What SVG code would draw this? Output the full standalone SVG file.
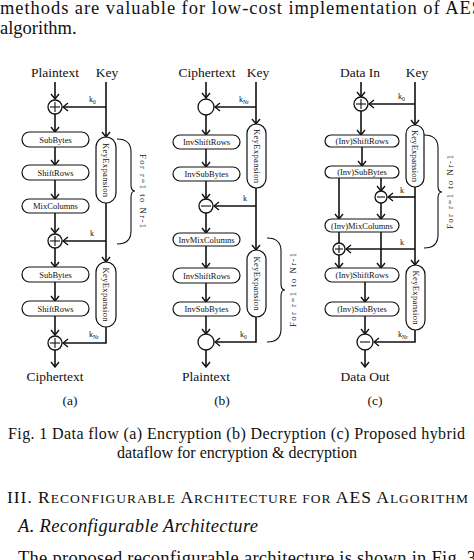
<svg xmlns="http://www.w3.org/2000/svg" width="474" height="560" viewBox="0 0 474 560">
<defs>
<marker id="arr" viewBox="-6 -5 7 10" refX="0" refY="0" markerWidth="7" markerHeight="10" markerUnits="userSpaceOnUse" orient="auto">
<path d="M-5,-4 L0,0 L-5,4" fill="none" stroke="#111" stroke-width="1.4"/>
</marker>
</defs>
<style>
text{font-family:"Liberation Serif","Times New Roman",serif;fill:#111}
.para{font-size:18.5px}
.io{font-size:13.5px;text-anchor:middle}
.box{fill:#fff;stroke:#111;stroke-width:1.2}
.bt{font-size:8.5px;text-anchor:middle}
.kt{font-size:8.5px;text-anchor:middle}
.lbl{font-size:8px}
.ln{fill:none;stroke:#111;stroke-width:1.6}
.op{fill:#fff;stroke:#111;stroke-width:1.3}
.sym{stroke:#111;stroke-width:1.1}
.br{fill:none;stroke:#111;stroke-width:1.1}
.rt{font-size:8.5px;text-anchor:middle}
.cap{font-size:16px}
</style>
<rect width="474" height="560" fill="#fff"/>
<text class="para" x="0" y="14" textLength="482" lengthAdjust="spacing">methods are valuable for low-cost implementation of AES</text>
<text class="para" x="0" y="34">algorithm.</text>

<g id="connectors">
<!-- panel a -->
<line class="ln" x1="55" y1="82" x2="55" y2="99" marker-end="url(#arr)"/>
<line class="ln" x1="106" y1="82" x2="106" y2="137" marker-end="url(#arr)"/>
<line class="ln" x1="106" y1="107" x2="63" y2="107" marker-end="url(#arr)"/>
<line class="ln" x1="55" y1="114" x2="55" y2="132" marker-end="url(#arr)"/>
<line class="ln" x1="55" y1="147" x2="55" y2="165" marker-end="url(#arr)"/>
<line class="ln" x1="55" y1="180" x2="55" y2="199" marker-end="url(#arr)"/>
<line class="ln" x1="55" y1="213" x2="55" y2="233" marker-end="url(#arr)"/>
<line class="ln" x1="106" y1="203" x2="106" y2="262" marker-end="url(#arr)"/>
<line class="ln" x1="106" y1="241" x2="63" y2="241" marker-end="url(#arr)"/>
<line class="ln" x1="55" y1="248" x2="55" y2="267" marker-end="url(#arr)"/>
<line class="ln" x1="55" y1="282" x2="55" y2="301" marker-end="url(#arr)"/>
<line class="ln" x1="55" y1="316" x2="55" y2="335" marker-end="url(#arr)"/>
<polyline class="ln" points="106,327 106,343 63,343" marker-end="url(#arr)"/>
<line class="ln" x1="55" y1="350" x2="55" y2="367" marker-end="url(#arr)"/>
<!-- panel b -->
<line class="ln" x1="206" y1="82" x2="206" y2="98" marker-end="url(#arr)"/>
<line class="ln" x1="256" y1="82" x2="256" y2="124" marker-end="url(#arr)"/>
<line class="ln" x1="256" y1="107" x2="215" y2="107" marker-end="url(#arr)"/>
<line class="ln" x1="206" y1="115" x2="206" y2="135" marker-end="url(#arr)"/>
<line class="ln" x1="206" y1="149" x2="206" y2="167" marker-end="url(#arr)"/>
<line class="ln" x1="206" y1="181" x2="206" y2="199" marker-end="url(#arr)"/>
<line class="ln" x1="256" y1="188" x2="256" y2="250" marker-end="url(#arr)"/>
<line class="ln" x1="256" y1="206" x2="214" y2="206" marker-end="url(#arr)"/>
<line class="ln" x1="206" y1="213" x2="206" y2="233" marker-end="url(#arr)"/>
<line class="ln" x1="206" y1="246" x2="206" y2="268" marker-end="url(#arr)"/>
<line class="ln" x1="206" y1="283" x2="206" y2="302" marker-end="url(#arr)"/>
<line class="ln" x1="206" y1="316" x2="206" y2="334" marker-end="url(#arr)"/>
<polyline class="ln" points="256,317 256,342 215,342" marker-end="url(#arr)"/>
<line class="ln" x1="206" y1="350" x2="206" y2="367" marker-end="url(#arr)"/>
<!-- panel c -->
<line class="ln" x1="361" y1="82" x2="361" y2="97" marker-end="url(#arr)"/>
<line class="ln" x1="415" y1="82" x2="415" y2="125" marker-end="url(#arr)"/>
<line class="ln" x1="415" y1="104" x2="369" y2="104" marker-end="url(#arr)"/>
<line class="ln" x1="361" y1="111" x2="361" y2="135" marker-end="url(#arr)"/>
<line class="ln" x1="362" y1="147" x2="362" y2="166" marker-end="url(#arr)"/>
<line class="ln" x1="339" y1="178" x2="339" y2="219" marker-end="url(#arr)"/>
<line class="ln" x1="381" y1="178" x2="381" y2="191" marker-end="url(#arr)"/>
<line class="ln" x1="415" y1="197" x2="388" y2="197" marker-end="url(#arr)"/>
<line class="ln" x1="381" y1="203" x2="381" y2="219" marker-end="url(#arr)"/>
<line class="ln" x1="339" y1="232" x2="339" y2="243"/>
<line class="ln" x1="339" y1="255" x2="339" y2="268" marker-end="url(#arr)"/>
<line class="ln" x1="381" y1="232" x2="381" y2="268" marker-end="url(#arr)"/>
<line class="ln" x1="415" y1="187" x2="415" y2="265" marker-end="url(#arr)"/>
<line class="ln" x1="415" y1="249" x2="346" y2="249" marker-end="url(#arr)"/>
<line class="ln" x1="365" y1="282" x2="365" y2="302" marker-end="url(#arr)"/>
<line class="ln" x1="365" y1="316" x2="365" y2="334" marker-end="url(#arr)"/>
<polyline class="ln" points="415,330 415,342 374,342" marker-end="url(#arr)"/>
<line class="ln" x1="365" y1="350" x2="365" y2="367" marker-end="url(#arr)"/>
</g>

<!-- Panel a -->
<g id="a-plaintext"><text class="io" x="55" y="77">Plaintext</text></g>
<g id="a-key"><text class="io" x="107" y="77">Key</text></g>
<g id="a-xor1"><circle class="op" cx="55" cy="107" r="7"/><line class="sym" x1="55" y1="102" x2="55" y2="112"/><line class="sym" x1="50" y1="107" x2="60" y2="107"/></g>
<g id="a-k0"><text class="lbl" x="89" y="102">k<tspan font-size="5.5" dy="1.5">0</tspan></text></g>
<g id="a-subbytes1"><rect class="box" x="22" y="132" width="67" height="15" rx="7.5"/><text class="bt" x="55.5" y="142.5">SubBytes</text></g>
<g id="a-shiftrows1"><rect class="box" x="22" y="165" width="67" height="15" rx="7.5"/><text class="bt" x="55.5" y="175.5">ShiftRows</text></g>
<g id="a-mixcolumns"><rect class="box" x="22" y="199" width="67" height="14" rx="7"/><text class="bt" x="55.5" y="209">MixColumns</text></g>
<g id="a-keyexp1"><rect class="box" x="96" y="137" width="20" height="66" rx="10"/><text class="kt" transform="translate(103,170) rotate(90)" textLength="54">KeyExpansion</text></g>
<g id="a-xor2"><circle class="op" cx="55" cy="241" r="7"/><line class="sym" x1="55" y1="236" x2="55" y2="246"/><line class="sym" x1="50" y1="241" x2="60" y2="241"/></g>
<g id="a-k"><text class="lbl" x="90" y="236">k</text></g>
<g id="a-brace"><path class="br" d="M117,139 Q131,139 131,152 L131,185 Q131,191 135,191 Q131,191 131,197 L131,231 Q131,244 117,244"/><text class="rt" transform="translate(140,191) rotate(90)" textLength="74">For r=1 to Nr-1</text></g>
<g id="a-subbytes2"><rect class="box" x="22" y="267" width="67" height="15" rx="7.5"/><text class="bt" x="55.5" y="277.5">SubBytes</text></g>
<g id="a-shiftrows2"><rect class="box" x="22" y="301" width="67" height="15" rx="7.5"/><text class="bt" x="55.5" y="311.5">ShiftRows</text></g>
<g id="a-keyexp2"><rect class="box" x="96" y="262" width="20" height="65" rx="10"/><text class="kt" transform="translate(103,294.5) rotate(90)" textLength="54">KeyExpansion</text></g>
<g id="a-xor3"><circle class="op" cx="55" cy="343" r="7"/><line class="sym" x1="55" y1="338" x2="55" y2="348"/><line class="sym" x1="50" y1="343" x2="60" y2="343"/></g>
<g id="a-knr"><text class="lbl" x="89" y="337">k<tspan font-size="5.5" dy="1.5">Nr</tspan></text></g>
<g id="a-ciphertext"><text class="io" x="55" y="381">Ciphertext</text></g>
<g id="a-label"><text class="io" x="70" y="405">(a)</text></g>

<!-- Panel b -->
<g id="b-ciphertext"><text class="io" x="207" y="77">Ciphertext</text></g>
<g id="b-key"><text class="io" x="258" y="77">Key</text></g>
<g id="b-op1"><circle class="op" cx="206" cy="107" r="8"/></g>
<g id="b-knr"><text class="lbl" x="239" y="102">k<tspan font-size="5.5" dy="1.5">Nr</tspan></text></g>
<g id="b-invshiftrows1"><rect class="box" x="173" y="135" width="67" height="14" rx="7"/><text class="bt" x="206.5" y="145">InvShiftRows</text></g>
<g id="b-invsubbytes1"><rect class="box" x="173" y="167" width="67" height="14" rx="7"/><text class="bt" x="206.5" y="177">InvSubBytes</text></g>
<g id="b-keyexp1"><rect class="box" x="247" y="124" width="19" height="64" rx="9.5"/><text class="kt" transform="translate(253.5,156) rotate(90)" textLength="54">KeyExpansion</text></g>
<g id="b-op2"><circle class="op" cx="206" cy="206" r="7"/><line class="sym" x1="201" y1="206" x2="211" y2="206"/></g>
<g id="b-k"><text class="lbl" x="243" y="201">k</text></g>
<g id="b-invmixcolumns"><rect class="box" x="173" y="233" width="67" height="13" rx="6.5"/><text class="bt" x="206.5" y="242.5">InvMixColumns</text></g>
<g id="b-invshiftrows2"><rect class="box" x="173" y="268" width="67" height="15" rx="7.5"/><text class="bt" x="206.5" y="278.5">InvShiftRows</text></g>
<g id="b-invsubbytes2"><rect class="box" x="173" y="302" width="67" height="14" rx="7"/><text class="bt" x="206.5" y="312">InvSubBytes</text></g>
<g id="b-keyexp2"><rect class="box" x="247" y="250" width="19" height="67" rx="9.5"/><text class="kt" transform="translate(253.5,283.5) rotate(90)" textLength="54">KeyExpansion</text></g>
<g id="b-brace"><path class="br" d="M267,238 Q281,238 281,251 L281,284 Q281,290 285,290 Q281,290 281,296 L281,329 Q281,342 267,342"/><text class="rt" transform="translate(296,290) rotate(-90)" textLength="74">For r=1 to Nr-1</text></g>
<g id="b-op3"><circle class="op" cx="206" cy="342" r="8"/></g>
<g id="b-k0"><text class="lbl" x="240" y="337">k<tspan font-size="5.5" dy="1.5">0</tspan></text></g>
<g id="b-plaintext"><text class="io" x="206" y="381">Plaintext</text></g>
<g id="b-label"><text class="io" x="222" y="405">(b)</text></g>

<!-- Panel c -->
<g id="c-datain"><text class="io" x="360" y="77">Data In</text></g>
<g id="c-key"><text class="io" x="417" y="77">Key</text></g>
<g id="c-xor1"><circle class="op" cx="361" cy="104" r="7"/><line class="sym" x1="361" y1="99" x2="361" y2="109"/><line class="sym" x1="356" y1="104" x2="366" y2="104"/></g>
<g id="c-k0"><text class="lbl" x="398" y="99">k<tspan font-size="5.5" dy="1.5">0</tspan></text></g>
<g id="c-shiftrows1"><rect class="box" x="325" y="135" width="74" height="12" rx="6"/><text class="bt" x="362" y="144">(Inv)ShiftRows</text></g>
<g id="c-subbytes1"><rect class="box" x="325" y="166" width="74" height="12" rx="6"/><text class="bt" x="362" y="175">(Inv)SubBytes</text></g>
<g id="c-keyexp1"><rect class="box" x="406" y="125" width="18" height="62" rx="9"/><text class="kt" transform="translate(412,156) rotate(90)" textLength="52">KeyExpansion</text></g>
<g id="c-minus1"><circle class="op" cx="381" cy="197" r="6"/><line class="sym" x1="377" y1="197" x2="385" y2="197"/></g>
<g id="c-k1"><text class="lbl" x="400" y="193">k</text></g>
<g id="c-mixcolumns"><rect class="box" x="325" y="219" width="74" height="13" rx="6.5"/><text class="bt" x="362" y="228.5">(Inv)MixColumns</text></g>
<g id="c-xor2"><circle class="op" cx="339" cy="249" r="6"/><line class="sym" x1="339" y1="245" x2="339" y2="253"/><line class="sym" x1="335" y1="249" x2="343" y2="249"/></g>
<g id="c-k2"><text class="lbl" x="400" y="245">k</text></g>
<g id="c-brace"><path class="br" d="M424,135 Q438,135 438,148 L438,186 Q438,192 442,192 Q438,192 438,198 L438,235 Q438,248 424,248"/><text class="rt" transform="translate(453,192) rotate(-90)" textLength="74">For r=1 to Nr-1</text></g>
<g id="c-shiftrows2"><rect class="box" x="325" y="268" width="74" height="14" rx="7"/><text class="bt" x="362" y="278">(Inv)ShiftRows</text></g>
<g id="c-subbytes2"><rect class="box" x="325" y="302" width="74" height="14" rx="7"/><text class="bt" x="362" y="312">(Inv)SubBytes</text></g>
<g id="c-keyexp2"><rect class="box" x="406" y="265" width="19" height="65" rx="9.5"/><text class="kt" transform="translate(412.5,297.5) rotate(90)" textLength="54">KeyExpansion</text></g>
<g id="c-minus2"><circle class="op" cx="365" cy="342" r="8"/><line class="sym" x1="360" y1="342" x2="370" y2="342"/></g>
<g id="c-knr"><text class="lbl" x="398" y="337">k<tspan font-size="5.5" dy="1.5">Nr</tspan></text></g>
<g id="c-dataout"><text class="io" x="365" y="381">Data Out</text></g>
<g id="c-label"><text class="io" x="375" y="405">(c)</text></g>

<text class="cap" x="8" y="439" textLength="457" lengthAdjust="spacing">Fig. 1 Data flow (a) Encryption (b) Decryption (c) Proposed hybrid</text>
<text class="cap" x="237" y="458" text-anchor="middle">dataflow for encryption &amp; decryption</text>
<text x="7" y="503" font-size="17.5" textLength="461" lengthAdjust="spacing">III.  R<tspan font-size="13.5">ECONFIGURABLE</tspan> A<tspan font-size="13.5">RCHITECTURE FOR</tspan> AES A<tspan font-size="13.5">LGORITHM</tspan></text>
<text x="18" y="532" font-size="18.5" font-style="italic" textLength="240" lengthAdjust="spacing">A.  Reconfigurable Architecture</text>
<text x="18" y="564" font-size="18.5" textLength="458" lengthAdjust="spacing">The proposed reconfigurable architecture is shown in Fig. 3</text>
</svg>
